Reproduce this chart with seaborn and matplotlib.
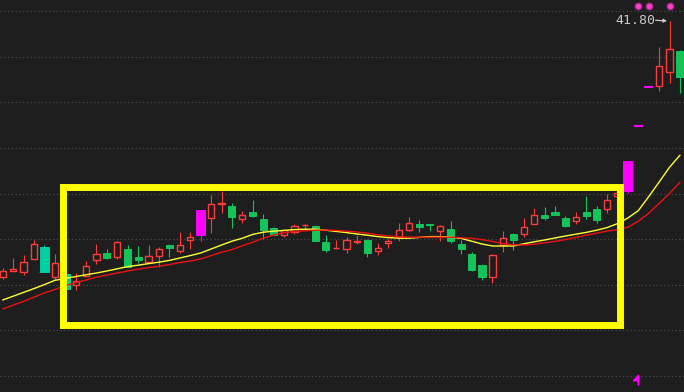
import numpy as np
import pandas as pd
import matplotlib
matplotlib.use("Agg")
import matplotlib.pyplot as plt
import seaborn as sns
from matplotlib.patches import Rectangle

# ---------------- data (prices) ----------------
open_ = [29.02, 29.29, 29.24, 29.89, 30.50, 29.02, 29.14, 28.62, 29.07, 29.84,
         30.20, 29.99, 30.40, 30.00, 29.77, 30.04, 30.60, 30.29, 30.84, 31.09,
         31.94, 32.66, 32.55, 31.92, 32.25, 31.90, 31.44, 31.10, 31.24, 31.58,
         31.55, 30.75, 30.45, 30.42, 30.77, 30.85, 30.32, 30.69, 30.99, 31.37,
         31.65, 31.64, 31.32, 31.40, 30.65, 30.15, 29.60, 29.02, 30.59, 31.15,
         31.17, 31.64, 32.10, 32.25, 31.95, 31.82, 32.25, 32.39, 32.39, 33.05,
         33.32, 36.57, 38.50, 38.57, 39.27, 40.30]
high = [29.44, 29.94, 30.09, 30.84, 30.60, 30.15, 29.16, 29.19, 29.80, 30.64,
        30.40, 30.82, 30.59, 30.55, 30.60, 30.52, 30.65, 31.25, 31.25, 32.35,
        33.10, 33.30, 32.70, 32.30, 32.85, 32.15, 31.49, 31.39, 31.64, 31.67,
        31.60, 31.10, 30.85, 30.99, 31.09, 30.89, 30.69, 30.92, 31.70, 32.00,
        31.84, 31.64, 31.60, 31.80, 30.85, 30.25, 29.65, 30.15, 31.30, 31.22,
        31.95, 32.45, 32.50, 32.55, 32.05, 32.24, 33.04, 32.55, 33.15, 33.35,
        34.80, 36.57, 38.50, 40.50, 41.80, 40.35]
low = [28.90, 29.28, 29.12, 29.88, 29.26, 28.85, 28.40, 28.35, 29.06, 29.64,
       29.89, 29.89, 29.48, 29.69, 29.69, 29.49, 30.02, 30.22, 30.42, 30.82,
       31.22, 32.22, 31.47, 31.72, 32.02, 30.90, 31.09, 31.02, 31.14, 31.40,
       30.79, 30.27, 30.39, 30.22, 30.65, 30.02, 30.12, 30.45, 30.80, 31.30,
       31.27, 31.32, 30.82, 30.72, 30.17, 29.32, 28.87, 28.72, 30.27, 30.35,
       31.02, 31.63, 31.85, 32.11, 31.50, 31.67, 31.92, 31.72, 32.19, 32.65,
       33.19, 36.57, 38.50, 38.32, 38.72, 38.22]
close = [29.30, 29.39, 29.74, 30.64, 29.27, 29.69, 28.42, 28.79, 29.54, 30.14,
         29.97, 30.75, 29.49, 29.87, 30.04, 30.39, 30.47, 30.59, 30.99, 32.35,
         32.64, 32.69, 32.02, 32.09, 32.07, 31.37, 31.10, 31.34, 31.54, 31.61,
         30.80, 30.35, 30.47, 30.84, 30.79, 30.22, 30.47, 30.80, 31.34, 31.69,
         31.52, 31.61, 31.54, 30.80, 30.42, 29.35, 29.00, 30.09, 30.94, 30.85,
         31.49, 32.09, 31.97, 32.12, 31.55, 31.99, 32.07, 31.87, 32.84, 33.20,
         34.80, 36.57, 38.50, 39.55, 40.39, 39.00]
ma_yellow = [27.85, 28.04, 28.23, 28.42, 28.62, 28.83, 28.93, 29.02, 29.11, 29.20,
             29.30, 29.41, 29.52, 29.59, 29.67, 29.74, 29.83, 29.95, 30.07, 30.20,
             30.40, 30.60, 30.79, 30.94, 31.13, 31.24, 31.29, 31.33, 31.37, 31.39,
             31.39, 31.34, 31.28, 31.22, 31.15, 31.09, 31.02, 30.97, 30.94, 30.94,
             30.98, 31.02, 31.02, 30.99, 30.93, 30.79, 30.65, 30.55, 30.55, 30.55,
             30.66, 30.76, 30.85, 30.95, 31.05, 31.14, 31.23, 31.34, 31.47, 31.67,
             31.95, 32.32, 33.02, 33.75, 34.49, 35.09]
ma_red = [27.40, 27.59, 27.78, 27.99, 28.20, 28.37, 28.57, 28.71, 28.85, 28.99,
          29.10, 29.20, 29.30, 29.39, 29.47, 29.54, 29.62, 29.72, 29.80, 29.90,
          30.07, 30.24, 30.37, 30.56, 30.74, 30.94, 31.10, 31.21, 31.28, 31.31,
          31.34, 31.35, 31.33, 31.29, 31.25, 31.19, 31.11, 31.05, 31.01, 30.99,
          30.99, 30.99, 30.99, 30.99, 30.96, 30.94, 30.87, 30.78, 30.67, 30.61,
          30.60, 30.64, 30.71, 30.78, 30.87, 30.98, 31.09, 31.19, 31.30, 31.36,
          31.49, 31.79, 32.19, 32.68, 33.18, 33.74]
teal_days = [4, 6]
limit_days = [19, 60, 61, 62]
star_days = [64, 61, 62]
star_price = 42.57
flag_day = 61
flag_price = 23.90
peak_day = 64
peak_label = "41.80"
# highlighted consolidation box (day range and price range)
box_days = [5.74, 59.27]
box_prices = [26.585, 33.515]

# ---------------- style ----------------
BG = "#1e1e1e"
RED = "#ff3c3c"
GREEN = "#14c35a"
TEAL = "#00d0a2"
MAGENTA = "#ff00ff"
sns.set_style("dark", {"axes.facecolor": BG, "figure.facecolor": BG,
                       "axes.edgecolor": BG})

df = pd.DataFrame({"day": np.arange(len(open_)), "open": open_, "high": high,
                   "low": low, "close": close,
                   "ma_yellow": ma_yellow, "ma_red": ma_red})

fig = plt.figure(figsize=(6.84, 3.92), dpi=100)
ax = fig.add_axes([0, 0, 1, 1])
ax.set_facecolor(BG)

def kind(i):
    if i in limit_days:
        return "limit"
    if i in teal_days:
        return "teal"
    return "up" if df.close[i] >= df.open[i] else "down"

kinds = [kind(i) for i in df.day]
col = {"limit": MAGENTA, "teal": TEAL, "up": RED, "down": GREEN}
colors = [col[k] for k in kinds]

# wicks
ax.vlines(df.day, df.low, df.high, colors=colors, lw=0.8, zorder=2)

# bodies
for k, w in [("down", 0.68), ("teal", 0.86), ("limit", 0.86)]:
    sub = df[[kk == k for kk in kinds]]
    sub = sub[(sub.close - sub.open).abs() > 0]
    ax.bar(sub.day, sub.close - sub.open, bottom=sub.open, width=w,
           color=col[k], edgecolor=col[k], lw=0.7, zorder=3)
up = df[[kk == "up" for kk in kinds]]
ax.bar(up.day, up.close - up.open, bottom=up.open, width=0.6,
       facecolor=BG, edgecolor=RED, lw=1.0, zorder=3)
flat = df[[(kk == "limit") for kk in kinds]]
flat = flat[(flat.close - flat.open).abs() == 0]
ax.hlines(flat.close, flat.day - 0.42, flat.day + 0.42, colors=MAGENTA,
          lw=1.5, zorder=3)

# moving averages
sns.lineplot(data=df, x="day", y="ma_yellow", color="#ffff33", lw=1.0,
             ax=ax, zorder=4)
sns.lineplot(data=df, x="day", y="ma_red", color="#ee1111", lw=1.0,
             ax=ax, zorder=4)

# highlight box
ax.add_patch(Rectangle((box_days[0], box_prices[0]),
                       box_days[1] - box_days[0], box_prices[1] - box_prices[0],
                       fill=False, ec="#ffff00", lw=5.0, joinstyle="miter",
                       zorder=6))

# markers
ax.scatter(star_days, [star_price] * len(star_days), s=22, marker="o",
           facecolor="#ff40c8", edgecolor="#a02888", lw=1.0, zorder=7)
flag = [(0, 1), (0, -0.3), (-1.2, -0.3), (0, 1), (0, -1.3), (0, -0.3)]
ax.scatter([flag_day], [flag_price], s=60, marker=flag, color=MAGENTA,
           lw=1.0, zorder=7)

# peak label
ax.annotate(peak_label, xy=(peak_day, df.high[peak_day]),
            xytext=(-10.5, 0.5), textcoords="offset points",
            ha="right", va="center", color="#c8c8c8", fontsize=9.5,
            family="DejaVu Sans Mono", zorder=8)
ax.annotate("", xy=(peak_day, df.high[peak_day]),
            xytext=(-10.0, 0.5), textcoords="offset points",
            arrowprops=dict(arrowstyle="-|>", color="#c8c8c8", lw=0.9,
                            shrinkA=0, shrinkB=1.8, mutation_scale=5),
            zorder=8)

# grid
grid_prices = 42.285 - 2.2795 * np.arange(9)
ax.set_yticks(grid_prices)
ax.yaxis.grid(True, color="#4a4a4a", linestyle=(0, (1, 2)), lw=0.9)
ax.xaxis.grid(False)
ax.set_axisbelow(True)

ax.set_xlim(-0.259, 65.384)
ax.set_ylim(23.25, 42.85)
ax.set_xlabel("")
ax.set_ylabel("")
ax.tick_params(left=False, bottom=False, labelleft=False, labelbottom=False)
for s in ax.spines.values():
    s.set_visible(False)

fig.savefig("out.png", dpi=100, facecolor=BG)
